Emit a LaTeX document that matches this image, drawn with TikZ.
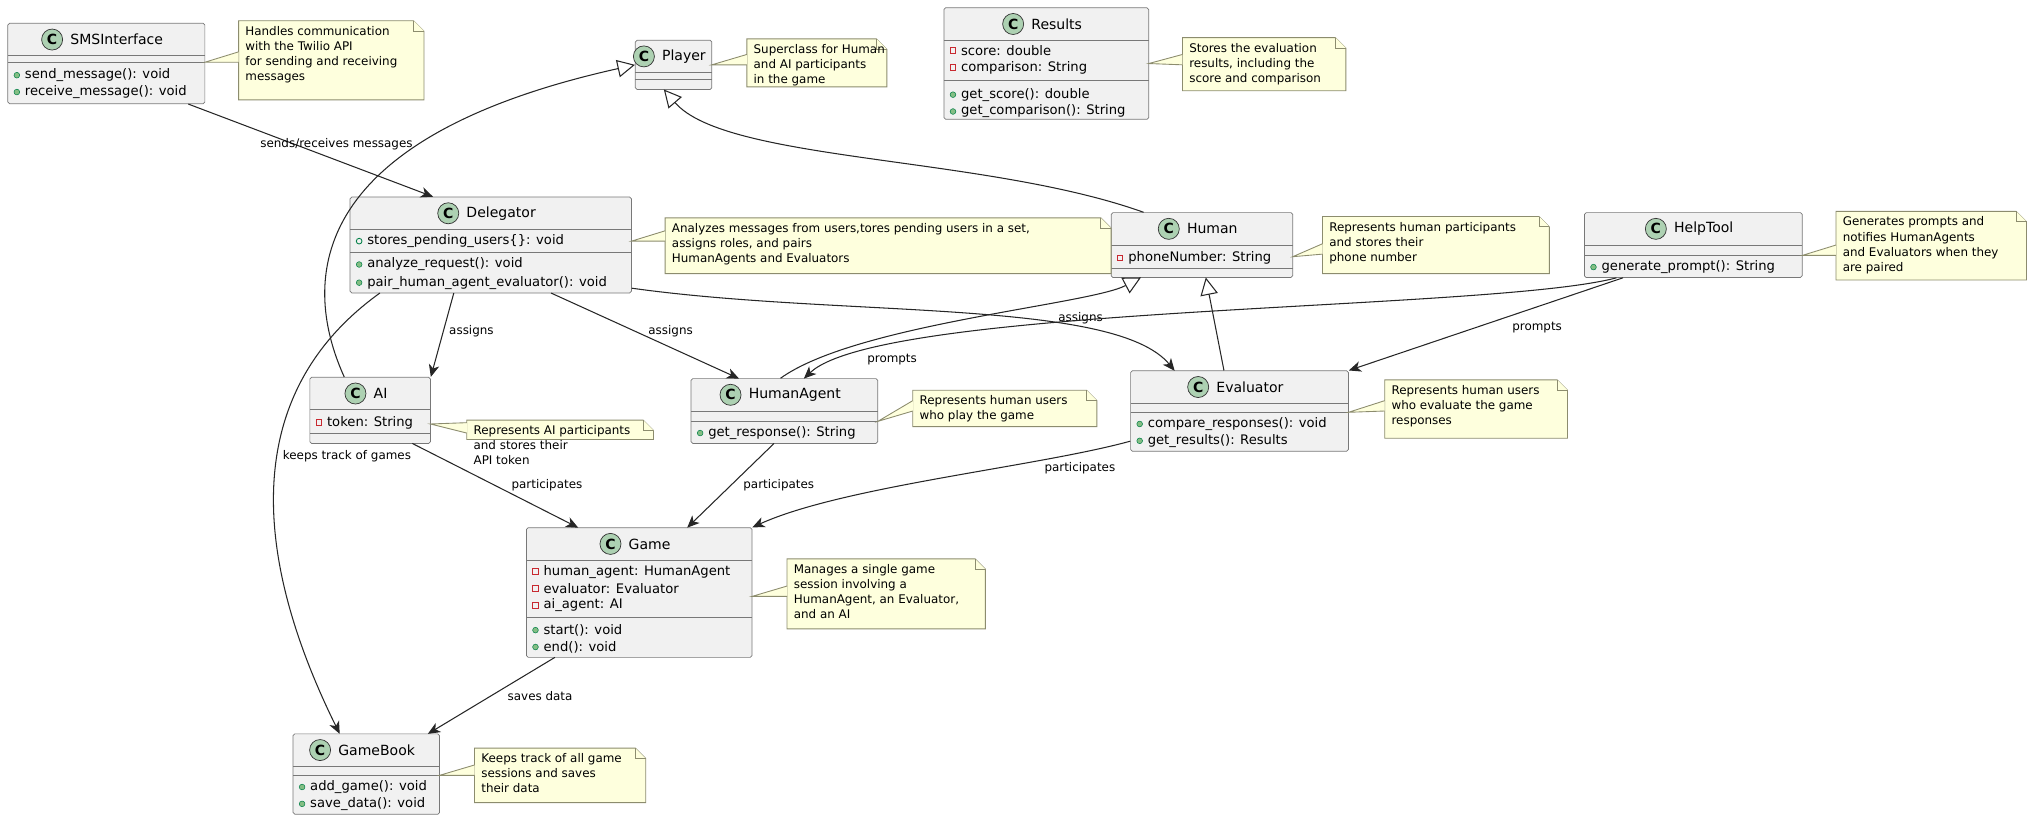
\documentclass[tikz,border=0pt]{standalone}
\usepackage{fontspec}
\setmainfont{DejaVu Sans}
\usetikzlibrary{arrows.meta,positioning}
\definecolor{boxfill}{RGB}{241,241,241}
\definecolor{boxline}{RGB}{120,120,120}
\definecolor{notefill}{RGB}{254,255,221}
\definecolor{noteline}{RGB}{140,140,110}
\definecolor{iconfill}{RGB}{173,209,178}
\definecolor{pubgreen}{RGB}{3,128,72}
\definecolor{pubfill}{RGB}{132,190,132}
\definecolor{privred}{RGB}{200,41,48}

\tikzset{
  cbox/.style={draw=boxline,fill=boxfill,rounded corners=1pt,inner sep=0pt},
  cline/.style={draw=boxline,line width=0.5pt},
  cicon/.style={circle,draw=black!80,fill=iconfill,inner sep=0pt,minimum size=12pt,font=\fontsize{8}{8}\selectfont\bfseries},
  ctitle/.style={font=\fontsize{8}{9}\selectfont,inner sep=1pt},
  mem/.style={anchor=west,font=\fontsize{7.5}{9}\selectfont,inner sep=0pt},
  note/.style={draw=noteline,fill=notefill,line width=0.5pt},
  ntext/.style={anchor=north west,align=left,font=\fontsize{6.8}{8.6}\selectfont,inner sep=0pt},
  lbl/.style={font=\fontsize{6.8}{8}\selectfont,inner sep=1pt},
  assoc/.style={draw=black!85,line width=0.6pt,-{Stealth[length=7pt,width=6pt,inset=2pt]}},
  inherit/.style={draw=black!85,line width=0.6pt,-{Triangle[open,length=10pt,width=10pt,fill=white]}},
}

% class box: id, x1, y1, x2, y2, title
\newcommand{\umlclass}[6]{%
  \node[cbox,minimum width={(#4-#2)*0.026cm},minimum height={(#5-#3)*0.026cm}] (#1) at ({(#2+#4)/2},{(#3+#5)/2}) {};
  \draw[cline] (#2,#3+25) -- (#4,#3+25);
  \node[ctitle] (#1-t) at ({(#2+#4)/2+8},#3+12.5) {#6};
  \node[cicon,left=3pt of #1-t] (#1-c) {C};
}
\newcommand{\sep}[3]{\draw[cline] (#1,#3) -- (#2,#3);}
\newcommand{\pubm}[3]{\fill[pubfill,draw=pubgreen,line width=0.3pt] (#1+7,#2) circle (2.2); \node[mem] at (#1+13,#2) {#3};}
\newcommand{\pubf}[3]{\draw[pubgreen,line width=0.5pt] (#1+7,#2) circle (2.2); \node[mem] at (#1+13,#2) {#3};}
\newcommand{\privf}[3]{\draw[privred,line width=0.5pt] (#1+5,#2-2.2) rectangle (#1+9,#2+2.2); \node[mem] at (#1+13,#2) {#3};}
% note: id, x1, y1, x2, y2, text, anchor point on class, y of pointer
\newcommand{\umlnote}[8]{%
  \draw[note] (#2,#3) -- (#4-8,#3) -- (#4,#3+8) -- (#4,#5) -- (#2,#5) -- cycle;
  \draw[note] (#4-8,#3) -- (#4-8,#3+8) -- (#4,#3+8);
  \node[ntext] (#1) at (#2+5,#3+4) {#6};
  \fill[notefill] (#7) -- (#2,#8-4) -- (#2,#8+4) -- cycle;
  \draw[noteline,line width=0.5pt] (#2,#8-4) -- (#7) -- (#2,#8+4);
}

\begin{document}
\begin{tikzpicture}[x=0.026cm,y=-0.026cm]
\useasboundingbox (0,0) rectangle (1568,633);

% classes
\umlclass{sms}{6}{18}{158}{80}{SMSInterface}
\sep{6}{158}{48}
\pubm{6}{58}{send\_message(): void}
\pubm{6}{71}{receive\_message(): void}

\umlclass{player}{490}{31}{549}{69}{Player}
\sep{490}{549}{61}

\umlclass{results}{728}{6}{886}{92}{Results}
\privf{728}{39}{score: double}
\privf{728}{52}{comparison: String}
\sep{728}{886}{62}
\pubm{728}{73}{get\_score(): double}
\pubm{728}{86}{get\_comparison(): String}

\umlclass{deleg}{270}{152}{487}{226}{Delegator}
\pubf{270}{186}{stores\_pending\_users\{\}: void}
\sep{270}{487}{195}
\pubm{270}{204}{analyze\_request(): void}
\pubm{270}{218}{pair\_human\_agent\_evaluator(): void}

\umlclass{human}{857}{164}{997}{214}{Human}
\privf{857}{199}{phoneNumber: String}
\sep{857}{997}{207}

\umlclass{help}{1222}{164}{1390}{214}{HelpTool}
\sep{1222}{1390}{197}
\pubm{1222}{206}{generate\_prompt(): String}

\umlclass{ai}{239}{291}{332}{342}{AI}
\privf{239}{326}{token: String}
\sep{239}{332}{334}

\umlclass{hagent}{533}{292}{677}{342}{HumanAgent}
\sep{533}{677}{325}
\pubm{533}{334}{get\_response(): String}

\umlclass{eval}{872}{286}{1040}{348}{Evaluator}
\sep{872}{1040}{318}
\pubm{872}{327}{compare\_responses(): void}
\pubm{872}{340}{get\_results(): Results}

\umlclass{game}{406}{407}{580}{507}{Game}
\privf{406}{441}{human\_agent: HumanAgent}
\privf{406}{454}{evaluator: Evaluator}
\privf{406}{467}{ai\_agent: AI}
\sep{406}{580}{476}
\pubm{406}{486}{start(): void}
\pubm{406}{499}{end(): void}

\umlclass{gbook}{226}{566}{339}{628}{GameBook}
\sep{226}{339}{598}
\pubm{226}{607}{add\_game(): void}
\pubm{226}{620}{save\_data(): void}

% notes
\umlnote{nsms}{184}{16}{327}{77}{Handles communication\\with the Twilio API\\for sending and receiving\\messages}{158,48}{44}
\umlnote{nplayer}{576}{30}{684}{67}{Superclass for Human\\and AI participants\\in the game}{549,50}{46}
\umlnote{nresults}{912}{29}{1038}{70}{Stores the evaluation\\results, including the\\score and comparison}{886,49}{46}
\umlnote{ndeleg}{513}{168}{857}{211}{Analyzes messages from users,tores pending users in a set,\\assigns roles, and pairs\\HumanAgents and Evaluators}{487,186}{182}
\umlnote{nhuman}{1020}{167}{1195}{211}{Represents human participants\\and stores their\\phone number}{997,198}{192}
\umlnote{nhelp}{1416}{163}{1563}{216}{Generates prompts and\\notifies HumanAgents\\and Evaluators when they\\are paired}{1390,197}{193}
\umlnote{nai}{360}{324}{504}{339}{Represents AI participants\\and stores their\\API token}{332,327}{330}
\umlnote{nhagent}{704}{301}{846}{329}{Represents human users\\who play the game}{677,325}{313}
\umlnote{neval}{1068}{293}{1209}{338}{Represents human users\\who evaluate the game\\responses}{1040,318}{313}
\umlnote{ngame}{607}{431}{760}{485}{Manages a single game\\session involving a\\HumanAgent, an Evaluator,\\and an AI}{580,460}{456}
\umlnote{ngbook}{366}{577}{498}{619}{Keeps track of all game\\sessions and saves\\their data}{339,598}{594}

% connectors
\draw[assoc] (sms.south east) ++(-13,0) coordinate (s1) -- node[lbl,above right=-1pt and -30pt] {sends/receives messages} (deleg.north west -| 334,152);
\draw[inherit] (ai.north) ++(-20,0) .. controls (238,230) and (220,110) .. (player.west);
\draw[inherit] (human.north) ++(-45,0) .. controls (760,120) and (560,125) .. (512,69);
\draw[inherit] (hagent.north) ++(-3,0) .. controls (660,250) and (840,235) .. (880,214);
\draw[inherit] (eval.north) ++(-12,0) -- (930,214);
\draw[assoc] (350,226) -- node[lbl,right=2pt,pos=0.45] {assigns} (ai.north east);
\draw[assoc] (425,226) -- node[lbl,right=6pt,pos=0.45] {assigns} (570,292);
\draw[assoc] (deleg.south east) ++(0,-4) .. controls (650,245) and (860,230) .. node[lbl,pos=0.72,above=1pt] {assigns} (906,286);
\draw[assoc] (293,226) .. controls (190,300) and (190,420) .. node[lbl,pos=0.45,right=2pt] {keeps track of games} (262,566);
\draw[assoc] (help.south west) ++(25,0) .. controls (1150,240) and (680,235) .. node[lbl,pos=0.86,below right=0pt and 0pt] {prompts} (620,292);
\draw[assoc] (help.south west) ++(30,0) -- node[lbl,pos=0.45,below right=0pt and 6pt] {prompts} (eval.north east);
\draw[assoc] (318,342) -- node[lbl,pos=0.5,right=8pt] {participates} (446,407);
\draw[assoc] (597,342) -- node[lbl,pos=0.5,right=6pt] {participates} (530,407);
\draw[assoc] (eval.south west) ++(0,-8) .. controls (800,360) and (650,375) .. node[lbl,pos=0.3,below right=-2pt and 10pt] {participates} (game.north east);
\draw[assoc] (428,507) -- node[lbl,pos=0.5,right=8pt] {saves data} (330,566);
\end{tikzpicture}
\end{document}
